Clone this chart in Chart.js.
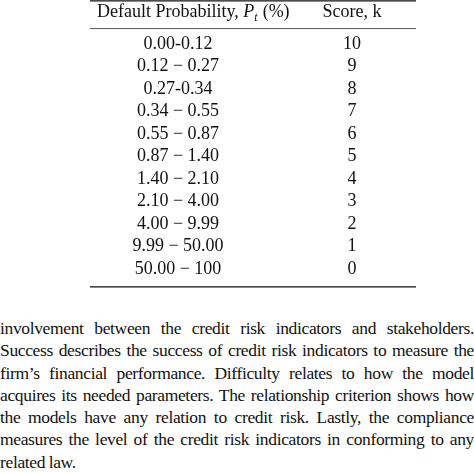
<!DOCTYPE html>
<html><head><meta charset="utf-8">
<script src="https://cdn.jsdelivr.net/npm/chart.js@4"></script>
<style>
body{margin:0;background:#fff;width:474px;overflow:hidden}
#wrap{width:474px;height:292px;position:relative}
p{margin:25px 0 0 0;font:17.5px/22.3px "Liberation Serif",serif;letter-spacing:-0.35px;word-spacing:-0.5px;text-align:justify;color:#111;text-align-last:left}
</style></head><body>
<div id="wrap"><canvas id="tbl"></canvas></div>
<p>involvement between the credit risk indicators and stakeholders. Success describes the success of credit risk indicators to measure the firm’s financial performance. Difficulty relates to how the model acquires its needed parameters. The relationship criterion shows how the models have any relation to credit risk. Lastly, the compliance measures the level of the credit risk indicators in conforming to any related law.</p>
<script>
// Table data
const probRanges = ['0.00-0.12','0.12 − 0.27','0.27-0.34','0.34 − 0.55','0.55 − 0.87','0.87 − 1.40','1.40 − 2.10','2.10 − 4.00','4.00 − 9.99','9.99 − 50.00','50.00 − 100'];
const scores = [10,9,8,7,6,5,4,3,2,1,0];
const colX = [178, 352];
const ruleX = [90, 416];

const tablePlugin = {
    id: 'tablePlugin',
    afterDraw(chart) {
        const ctx = chart.ctx, xs = chart.scales.x, ys = chart.scales.y;
        const f = '18px "Liberation Serif", serif';
        ctx.save();
        ctx.fillStyle = '#111';
        ctx.strokeStyle = '#111';
        ctx.textBaseline = 'middle';
        ctx.font = f;
        // rules
        [[-0.93, 1.2], [0.3, 0.7], [11.8, 1.2]].forEach(([v, w]) => {
            ctx.lineWidth = w;
            ctx.beginPath();
            ctx.moveTo(xs.getPixelForValue(ruleX[0]), ys.getPixelForValue(v));
            ctx.lineTo(xs.getPixelForValue(ruleX[1]), ys.getPixelForValue(v));
            ctx.stroke();
        });
        // header
        const hy = ys.getPixelForValue(-0.42);
        let x = xs.getPixelForValue(97);
        ctx.textAlign = 'left';
        const t1 = 'Default Probability, ';
        ctx.fillText(t1, x, hy); x += ctx.measureText(t1).width;
        ctx.font = 'italic 18px "Liberation Serif", serif';
        ctx.fillText('P', x, hy); x += ctx.measureText('P').width;
        ctx.font = 'italic 12px "Liberation Serif", serif';
        ctx.fillText('t', x, hy + 5); x += ctx.measureText('t').width + 5;
        ctx.font = f;
        ctx.fillText('(%)', x, hy);
        ctx.textAlign = 'center';
        ctx.fillText('Score, k', xs.getPixelForValue(colX[1]), hy);
        // rows
        probRanges.forEach((r, i) => {
            const y = ys.getPixelForValue(i + 1);
            ctx.fillText(r, xs.getPixelForValue(colX[0]), y);
            ctx.fillText(String(scores[i]), xs.getPixelForValue(colX[1]), y);
        });
        ctx.restore();
    }
};

new Chart(document.getElementById('tbl'), {
    type: 'scatter',
    data: { datasets: [{ data: [] }] },
    options: {
        responsive: true,
        maintainAspectRatio: false,
        animation: false,
        layout: { padding: 0 },
        plugins: { legend: { display: false }, tooltip: { enabled: false } },
        scales: {
            x: { type: 'linear', min: 0, max: 474, display: false },
            y: { type: 'linear', min: -0.973, max: 12.03, reverse: true, display: false }
        }
    },
    plugins: [tablePlugin]
});
</script>
</body></html>
